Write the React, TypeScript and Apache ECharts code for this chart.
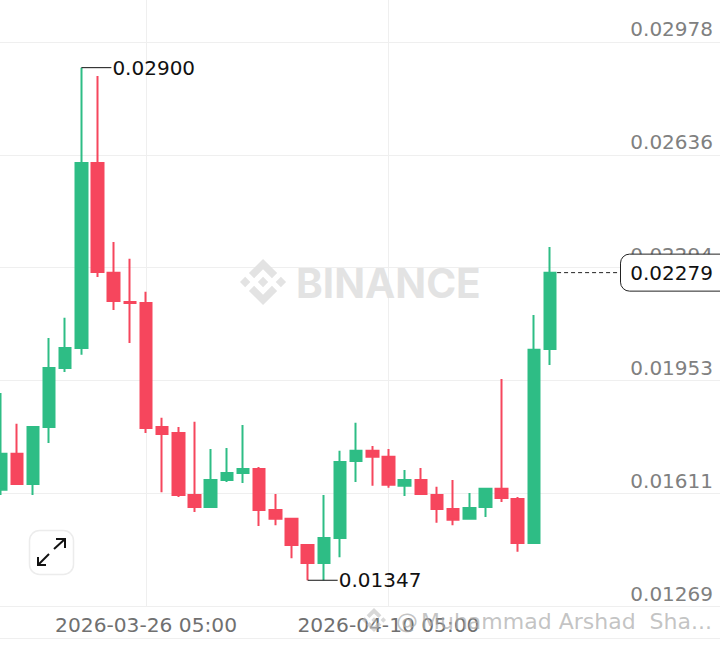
import React, { useEffect, useRef } from "react";
import * as echarts from "echarts";

const categories = [
  "2026-03-17 05:00","2026-03-18 05:00","2026-03-19 05:00","2026-03-20 05:00","2026-03-21 05:00","2026-03-22 05:00",
  "2026-03-23 05:00","2026-03-24 05:00","2026-03-25 05:00","2026-03-26 05:00","2026-03-27 05:00","2026-03-28 05:00",
  "2026-03-29 05:00","2026-03-30 05:00","2026-03-31 05:00","2026-04-01 05:00","2026-04-02 05:00","2026-04-03 05:00",
  "2026-04-04 05:00","2026-04-05 05:00","2026-04-06 05:00","2026-04-07 05:00","2026-04-08 05:00","2026-04-09 05:00",
  "2026-04-10 05:00","2026-04-11 05:00","2026-04-12 05:00","2026-04-13 05:00","2026-04-14 05:00","2026-04-15 05:00",
  "2026-04-16 05:00","2026-04-17 05:00","2026-04-18 05:00","2026-04-19 05:00","2026-04-20 05:00","2026-04-21 05:00",
  "2026-04-22 05:00","2026-04-23 05:00","2026-04-24 05:00","2026-04-25 05:00","2026-04-26 05:00","2026-04-27 05:00",
  "2026-04-28 05:00","2026-04-29 05:00","2026-04-30 05:00","2026-05-01 05:00",
];
const opens = [.01621,.0173,.01639,.01811,.0199,.02051,.02611,.02279,.0219,.02187,.01811,.01793,.01605,.01569,.01651,.01672,.01684,.0156,.01533,.01454,.01399,.01475,.01708,.01739,.01721,.01633,.01651,.01605,.01563,.01533,.01569,.01624,.01593,.0146,.02048];
const closes = [.0173,.01639,.01811,.0199,.02051,.02611,.02281,.02193,.02187,.01808,.0179,.01605,.01569,.01651,.01672,.01684,.0156,.01533,.01454,.01399,.01475,.01705,.01739,.01721,.01636,.01651,.01608,.01563,.0153,.01566,.01624,.01596,.0146,.02045,.02279];
const lows = [.01605,.01637,.01605,.01763,.01978,.0203,.02266,.02166,.02066,.01793,.01614,.01599,.01554,.01567,.01645,.01642,.01511,.01514,.01414,.01347,.01347,.01417,.01645,.01633,.01627,.01602,.01605,.01521,.01514,.01531,.01539,.01584,.01433,.01457,.01999];
const highs = [.01914,.01821,.01813,.02081,.02142,.029,.02875,.02372,.02321,.02221,.01839,.01811,.01827,.01745,.01748,.01817,.0169,.01608,.01536,.01457,.01605,.01739,.01824,.01754,.01745,.01681,.01687,.0163,.01651,.01611,.01627,.01957,.01599,.02151,.02357];
const priceTicks = [0.01269, 0.01611, 0.01953, 0.02294, 0.02636, 0.02978];
const dateTickIndexes = [9, 24];
const extremes = [[5, 0.029, "0.02900"], [19, 0.01347, "0.01347"]];
const lastPrice = [[34, 0.02279, "0.02279"]];

const GREEN = "#2EBD85";
const RED = "#F6465D";
const FONT = "'DejaVu Sans', sans-serif";
const LOGO = "M9.8 13.4 16 7.2l6.2 6.2 3.6-3.6L16 0 6.2 9.8zM0 16l3.6-3.6L7.2 16l-3.6 3.6zM9.8 18.6 16 24.8l6.2-6.2 3.6 3.6L16 32l-9.8-9.8zM24.8 16l3.6-3.6L32 16l-3.6 3.6zM19.6 16 16 12.4 12.4 16 16 19.6z";
echarts.graphic.registerShape("binanceLogo", echarts.graphic.extendPath(LOGO, {}) as any);

export default function App() {
  const ref = useRef<HTMLDivElement>(null);
  useEffect(() => {
    const chart = echarts.init(ref.current!, undefined, { renderer: "svg" });
    const arrow = { stroke: "#111", lineWidth: 2, fill: "none" as any };
    chart.setOption({
      animation: false,
      backgroundColor: "#fff",
      grid: { left: -7.48, top: 0, width: 743.4, height: 606, containLabel: false, outerBoundsMode: "none" },
      xAxis: {
        type: "category",
        data: categories,
        boundaryGap: true,
        axisLine: { show: false },
        axisTick: { show: false, alignWithLabel: true, interval: (i: number) => dateTickIndexes.includes(i) },
        splitLine: { show: true, alignWithLabel: true, interval: (i: number) => dateTickIndexes.includes(i), lineStyle: { color: "#efefef", width: 1 } },
        axisLabel: {
          interval: (i: number) => dateTickIndexes.includes(i),
          color: "#707070", fontFamily: FONT, fontSize: 20.2, margin: 9, hideOverlap: false,
        },
      },
      yAxis: {
        type: "value",
        position: "right",
        min: 0.01269,
        max: 0.03105,
        axisLine: { show: false },
        axisTick: { show: false, customValues: priceTicks },
        splitLine: { show: true, lineStyle: { color: "#efefef", width: 1 } },
        axisLabel: {
          inside: true,
          customValues: priceTicks,
          margin: 22.9,
          padding: [0, 0, 2.5, 0],
          color: "#808080", fontFamily: FONT, fontSize: 20,
          verticalAlign: "bottom",
          formatter: (v: number) => v.toFixed(5),
        },
      },
      series: [
        {
          type: "candlestick",
          barWidth: 12,
          data: opens.map((o, i) => [o, closes[i], lows[i], highs[i]]),
          itemStyle: { color: GREEN, color0: RED, borderColor: GREEN, borderColor0: RED, borderColorDoji: RED, borderWidth: 2 },
        },
        {
          type: "custom",
          data: extremes,
          z: 5,
          silent: true,
          clip: false,
          encode: { x: 0, y: 1 },
          renderItem: (_: any, api: any) => {
            const p = api.coord([api.value(0), api.value(1)]);
            return {
              type: "group",
              children: [
                { type: "line", shape: { x1: p[0], y1: p[1], x2: p[0] + 30, y2: p[1] }, style: { stroke: "#111", lineWidth: 1 } },
                { type: "text", style: { x: p[0] + 31, y: p[1], text: extremes[_.dataIndex][2], fill: "#111", font: `20px ${FONT}`, verticalAlign: "middle", align: "left" } },
              ],
            };
          },
        },
        {
          type: "custom",
          data: lastPrice,
          z: 6,
          silent: true,
          clip: false,
          encode: { x: 0, y: 1 },
          renderItem: (_: any, api: any) => {
            const p = api.coord([api.value(0), api.value(1)]);
            return {
              type: "group",
              children: [
                { type: "line", shape: { x1: p[0] + 7, y1: p[1], x2: 620, y2: p[1] }, style: { stroke: "#222", lineWidth: 1, lineDash: [4, 3] } },
                { type: "rect", shape: { x: 620.5, y: p[1] - 18.5, width: 112, height: 37, r: 9 }, style: { fill: "#fff", stroke: "#222", lineWidth: 1 } },
                { type: "text", style: { x: 713, y: p[1] + 0.5, text: lastPrice[0][2], fill: "#111", font: `20px ${FONT}`, verticalAlign: "middle", align: "right" } },
              ],
            };
          },
        },
      ],
      graphic: [
        { type: "line", z: 1, shape: { x1: 0, y1: 638.5, x2: 720, y2: 638.5 }, style: { stroke: "#efefef", lineWidth: 1 } },
        { type: "binanceLogo", z: 1, x: 240, y: 259, scaleX: 1.44, scaleY: 1.44, style: { fill: "#e3e3e3" } },
        { type: "text", z: 1, x: 296, y: 283, style: { text: "BINANCE", fill: "#e3e3e3", font: `bold 40.5px Inter, ${FONT}`, verticalAlign: "middle" } },
        { type: "rect", z: 4, shape: { x: 29.5, y: 530.5, width: 44, height: 44, r: 10 }, style: { fill: "#fff", stroke: "#ececec", lineWidth: 1.5 } },
        { type: "polyline", z: 5, shape: { points: [[38, 565], [49, 554]] }, style: arrow },
        { type: "polyline", z: 5, shape: { points: [[38, 557], [38, 565], [46, 565]] }, style: arrow },
        { type: "polyline", z: 5, shape: { points: [[54, 549], [65, 539]] }, style: arrow },
        { type: "polyline", z: 5, shape: { points: [[56, 539], [65, 539], [65, 548]] }, style: arrow },
        { type: "binanceLogo", z: 7, x: 362, y: 608, scaleX: 0.75, scaleY: 0.75, style: { fill: "rgba(190,190,190,0.6)" } },
        { type: "text", z: 7, x: 396, y: 621, style: { text: "@", fill: "rgba(170,170,170,0.7)", font: `22px ${FONT}`, verticalAlign: "middle" } },
        { type: "text", z: 7, x: 421, y: 621, style: { text: "Muhammad Arshad  Sha...", fill: "rgba(170,170,170,0.7)", font: `22px ${FONT}`, verticalAlign: "middle" } },
      ],
    });
    return () => chart.dispose();
  }, []);
  return <div ref={ref} style={{ position: "absolute", left: 0, top: 0, width: 720, height: 646, overflow: "hidden" }} />;
}
